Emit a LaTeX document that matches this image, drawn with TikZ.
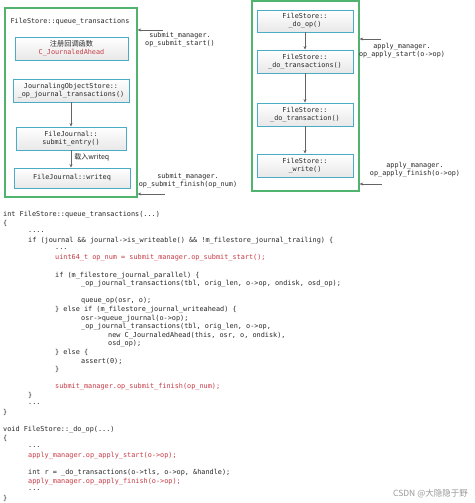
\documentclass[tikz,border=0pt]{standalone}
\usepackage{fontspec}
\setmonofont{DejaVu Sans Mono}
\newfontfamily\cjk{Noto Sans CJK SC}
\usetikzlibrary{arrows.meta}
\definecolor{grn}{RGB}{80,180,110}
\definecolor{bluebd}{RGB}{75,172,198}
\definecolor{codered}{RGB}{200,60,70}
\definecolor{txt}{RGB}{40,40,40}
\definecolor{arr}{RGB}{100,100,100}
\begin{document}
\begin{tikzpicture}[x=1pt,y=-1pt,
  fbox/.style={draw=bluebd, line width=0.9pt, top color=white, bottom color=black!9,
    text=txt, font=\ttfamily\fontsize{6.8}{8}\selectfont, align=center, inner sep=0pt,
    minimum height=23pt},
  gbox/.style={draw=grn, line width=1.3pt, inner sep=0pt},
  ann/.style={font=\ttfamily\fontsize{6.8}{8}\selectfont, text=txt, align=center, inner sep=0pt},
  flow/.style={draw=arr, line width=0.5pt, -{Stealth[length=3.5pt,width=3pt]}},
  code/.style={font=\ttfamily\fontsize{6.85}{8}\selectfont, text=txt, anchor=west, inner sep=0pt},
  hl/.style={text=codered}]
\useasboundingbox (0,0) rectangle (474,503);
\fill[white] (0,0) rectangle (474,503);

% left green frame
\node[gbox, minimum width=132pt, minimum height=189pt] (lg) at (71,102.5) {};
\node[ann] (lt) at (70,22) {FileStore::queue\_transactions};
\node[fbox, minimum width=113pt] (b1) at (71.5,48.5)
  {{\cjk\fontsize{7.2}{8.5}\selectfont 注册回调函数}\\[-0.5pt]\textcolor{codered}{C\_JournaledAhead}};
\node[fbox, minimum width=116pt] (b2) at (71,90.5) {JournalingObjectStore::\\\_op\_journal\_transactions()};
\node[fbox, minimum width=110pt] (b3) at (71,138.5) {FileJournal::\\submit\_entry()};
\node[fbox, minimum width=116pt, minimum height=20pt] (b4) at (72,178) {FileJournal::writeq};
\draw[flow] (b2.south -| b3.north) -- (b3.north);
\draw[flow] (b3.south) -- node[right, pos=0.4, inner sep=3pt, text=txt,
  font=\cjk\fontsize{7}{8}\selectfont] (lbl) {载入writeq} (b3.south |- b4.north);

% right green frame
\node[gbox, minimum width=107pt, minimum height=190pt] (rg) at (305.5,96) {};
\node[fbox, minimum width=96pt, minimum height=22pt] (r1) at (305,21) {FileStore::\\\_do\_op()};
\node[fbox, minimum width=96pt] (r2) at (305,61.5) {FileStore::\\\_do\_transactions()};
\node[fbox, minimum width=96pt] (r3) at (305,114.5) {FileStore::\\\_do\_transaction()};
\node[fbox, minimum width=96pt] (r4) at (305,165.5) {FileStore::\\\_write()};
\draw[flow] (r1) -- (r2);
\draw[flow] (r2) -- (r3);
\draw[flow] (r3) -- (r4);

% annotations
\coordinate (a1) at (163,30);
\draw[flow] (a1) -- (a1 -| lg.east);
\node[ann] (t1) at (180,40) {submit\_manager.\\op\_submit\_start()};
\coordinate (a2) at (165,194);
\draw[flow] (a2) -- (a2 -| lg.east);
\node[ann] (t2) at (188,181) {submit\_manager.\\op\_submit\_finish(op\_num)};
\coordinate (a3) at (381,39);
\draw[flow] (a3) -- (a3 -| rg.east);
\node[ann] (t3) at (402,51) {apply\_manager.\\op\_apply\_start(o->op)};
\coordinate (a4) at (382,184);
\draw[flow] (a4) -- (a4 -| rg.east);
\node[ann] (t4) at (415,170) {apply\_manager.\\op\_apply\_finish(o->op)};

% code listing
\node[code] (c1) at (3,215) {int FileStore::queue\_transactions(...)};
\node[code] (c2) at (3,223.6) {\{};
\node[code] (c3) at (28,232.2) {....};
\node[code] (c4) at (28,240.8) {if (journal \&\& journal->is\_writeable() \&\& !m\_filestore\_journal\_trailing) \{};
\node[code] (c5) at (55,249.4) {...};
\node[code,hl] (c6) at (55,258) {uint64\_t op\_num = submit\_manager.op\_submit\_start();};
\node[code] (c8) at (55,275.2) {if (m\_filestore\_journal\_parallel) \{};
\node[code] (c9) at (81,283.8) {\_op\_journal\_transactions(tbl, orig\_len, o->op, ondisk, osd\_op);};
\node[code] (c11) at (81,301) {queue\_op(osr, o);};
\node[code] (c12) at (55,309.6) {\} else if (m\_filestore\_journal\_writeahead) \{};
\node[code] (c13) at (81,318.2) {osr->queue\_journal(o->op);};
\node[code] (c14) at (81,326.8) {\_op\_journal\_transactions(tbl, orig\_len, o->op,};
\node[code] (c15) at (108,335.4) {new C\_JournaledAhead(this, osr, o, ondisk),};
\node[code] (c16) at (108,344) {osd\_op);};
\node[code] (c17) at (55,352.6) {\} else \{};
\node[code] (c18) at (81,361.2) {assert(0);};
\node[code] (c19) at (55,369.8) {\}};
\node[code,hl] (c21) at (55,387) {submit\_manager.op\_submit\_finish(op\_num);};
\node[code] (c22) at (28,395.6) {\}};
\node[code] (c23) at (28,404.2) {...};
\node[code] (c24) at (3,412.8) {\}};
\node[code] (c26) at (3,430) {void FileStore::\_do\_op(...)};
\node[code] (c27) at (3,438.6) {\{};
\node[code] (c28) at (28,447.2) {...};
\node[code,hl] (c29) at (28,455.8) {apply\_manager.op\_apply\_start(o->op);};
\node[code] (c31) at (28,473) {int r = \_do\_transactions(o->tls, o->op, \&handle);};
\node[code,hl] (c32) at (28,481.6) {apply\_manager.op\_apply\_finish(o->op);};
\node[code] (c33) at (28,490.2) {...};
\node[code] (c34) at (3,498.8) {\}};

% watermark
\node[font=\cjk\fontsize{8.5}{9}\selectfont, text=black!40, anchor=east, inner sep=0pt] (wm) at (468,494) {CSDN @大隐隐于野};
\end{tikzpicture}
\end{document}
